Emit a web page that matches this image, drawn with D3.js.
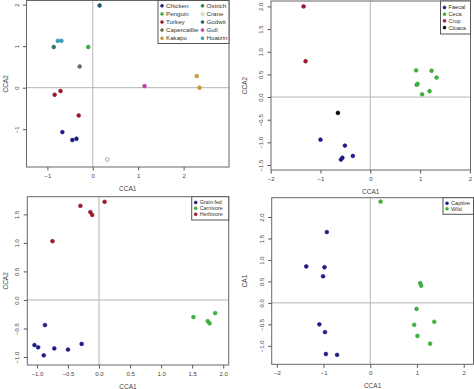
<!DOCTYPE html>
<html>
<head>
<meta charset="utf-8">
<script src="https://cdn.jsdelivr.net/npm/d3@7"></script>
<style>
  body { margin: 0; background: #fff; }
  svg { display: block; font-family: "Liberation Sans", Arial, sans-serif; }
</style>
</head>
<body>
<svg id="chart" width="474" height="389"></svg>
<script>
// Panel 1: host species (CCA1 / CCA2)
const speciesNames = ["Chicken", "Penguin", "Turkey", "Capercaillie", "Kakapo", "Ostrich", "Crane", "Godwit", "Gull", "Hoatzin"];
const speciesColors = ["#1c1c8a", "#3db53d", "#a3172b", "#6f6f55", "#c9a032", "#2f7d5c", "#ffffff", "#1f5d6d", "#c63cb6", "#3a9fb9"];
const speciesPoints = [
  [-0.67, -1.07, "Chicken"], [-0.45, -1.26, "Chicken"], [-0.36, -1.23, "Chicken"],
  [-0.10, 0.98, "Penguin"],
  [-0.71, -0.08, "Turkey"], [-0.84, -0.17, "Turkey"], [-0.31, -0.67, "Turkey"],
  [-0.29, 0.51, "Capercaillie"],
  [2.29, 0.28, "Kakapo"], [2.35, 0.0, "Kakapo"],
  [-0.86, 0.98, "Ostrich"],
  [0.32, -1.73, "Crane"],
  [0.15, 1.98, "Godwit"],
  [1.14, 0.04, "Gull"],
  [-0.77, 1.13, "Hoatzin"], [-0.69, 1.13, "Hoatzin"]
];

// Panel 2: gut section
const sectionNames = ["Faecal", "Ceca", "Crop", "Cloaca"];
const sectionColors = ["#1c1c8a", "#3db53d", "#a3172b", "#000000"];
const sectionPoints = [
  [-1.0, -0.94, "Faecal"], [-0.51, -1.07, "Faecal"], [-0.35, -1.30, "Faecal"], [-0.56, -1.34, "Faecal"], [-0.59, -1.38, "Faecal"],
  [0.92, 0.59, "Ceca"], [1.23, 0.58, "Ceca"], [1.33, 0.43, "Ceca"], [0.93, 0.27, "Ceca"], [0.95, 0.29, "Ceca"], [1.19, 0.13, "Ceca"], [1.04, 0.06, "Ceca"],
  [-1.34, 2.0, "Crop"], [-1.30, 0.79, "Crop"],
  [-0.65, -0.35, "Cloaca"]
];

// Panel 3: diet
const dietNames = ["Grain-fed", "Carnivore", "Herbivore"];
const dietColors = ["#1c1c8a", "#3db53d", "#a3172b"];
const dietPoints = [
  [-0.87, -0.44, "Grain-fed"], [-1.04, -0.79, "Grain-fed"], [-0.98, -0.83, "Grain-fed"], [-0.89, -0.97, "Grain-fed"],
  [-0.72, -0.85, "Grain-fed"], [-0.50, -0.87, "Grain-fed"], [-0.28, -0.77, "Grain-fed"],
  [1.52, -0.30, "Carnivore"], [1.75, -0.37, "Carnivore"], [1.78, -0.41, "Carnivore"], [1.87, -0.23, "Carnivore"],
  [-0.75, 1.03, "Herbivore"], [-0.30, 1.65, "Herbivore"], [-0.14, 1.54, "Herbivore"], [-0.11, 1.49, "Herbivore"], [0.09, 1.72, "Herbivore"]
];

// Panel 4: captivity
const statusNames = ["Captive", "Wild"];
const statusColors = ["#1c1c8a", "#3db53d"];
const statusPoints = [
  [-0.93, 1.65, "Captive"], [-1.37, 0.85, "Captive"], [-0.98, 0.83, "Captive"], [-1.01, 0.62, "Captive"],
  [-1.09, -0.50, "Captive"], [-0.97, -0.68, "Captive"], [-0.95, -1.19, "Captive"], [-0.71, -1.21, "Captive"],
  [0.22, 2.36, "Wild"], [1.07, 0.46, "Wild"], [1.09, 0.40, "Wild"], [0.99, -0.14, "Wild"],
  [0.94, -0.51, "Wild"], [1.37, -0.44, "Wild"], [1.01, -0.77, "Wild"], [1.28, -0.95, "Wild"]
];

const panels = [
  { points: speciesPoints, names: speciesNames, colors: speciesColors,
    box: [26.5, 0.5, 229, 167], xDomain: [-1.46, 3.0], yDomain: [-1.91, 2.10],
    xTicks: [-1, 0, 1, 2], yTicks: [-1, 0, 1, 2], fmt: d3.format("d"),
    xLabel: "CCA1", yLabel: "CCA2", yLabelX: 8,
    legend: { x: 158, y: 0.5, w: 71, h: 43, rowH: 8.1, cols: 2, colW: 40.5, font: 6.2 } },
  { points: sectionPoints, names: sectionNames, colors: sectionColors,
    box: [271, 1, 470.5, 170], xDomain: [-1.994, 2.012], yDomain: [-1.61, 2.12],
    xTicks: [-2, -1, 0, 1, 2], yTicks: [-1.5, -1, -0.5, 0, 0.5, 1, 1.5, 2], fmt: d3.format(".1f"), xFmt: d3.format("d"),
    xLabel: "CCA1", yLabel: "CCA2", yLabelX: 247,
    legend: { x: 440.5, y: 1, w: 30, h: 33, rowH: 6.7, cols: 1, colW: 30, font: 5.6 } },
  { points: dietPoints, names: dietNames, colors: dietColors,
    box: [27.3, 196.7, 228.7, 365], xDomain: [-1.155, 2.088], yDomain: [-1.14, 1.81],
    xTicks: [-1, -0.5, 0, 0.5, 1, 1.5, 2], yTicks: [-1, -0.5, 0, 0.5, 1, 1.5], fmt: d3.format(".1f"),
    xLabel: "CCA1", yLabel: "CCA2", yLabelX: 8,
    legend: { x: 191.7, y: 196.7, w: 37, h: 23.3, rowH: 5.9, cols: 1, colW: 37, font: 5.3 } },
  { points: statusPoints, names: statusNames, colors: statusColors,
    box: [271.7, 197.7, 473.5, 364.3], xDomain: [-2.11, 2.21], yDomain: [-1.43, 2.45],
    xTicks: [-2, -1, 0, 1, 2], yTicks: [-1, -0.5, 0, 0.5, 1, 1.5, 2], fmt: d3.format(".1f"), xFmt: d3.format("d"),
    xLabel: "CCA1", yLabel: "CA1", yLabelX: 247,
    legend: { x: 443, y: 197.7, w: 30.5, h: 16.6, rowH: 5.4, cols: 1, colW: 30.5, font: 5.6 } }
];

const svg = d3.select("#chart");

panels.forEach((p) => {
  const [x0, y0, x1, y1] = p.box;
  const x = d3.scaleLinear().domain(p.xDomain).range([x0, x1]);
  const y = d3.scaleLinear().domain(p.yDomain).range([y1, y0]);
  const color = d3.scaleOrdinal().domain(p.names).range(p.colors);
  const g = svg.append("g");

  // reference lines through the origin
  g.append("line")
    .attr("x1", x(0)).attr("x2", x(0)).attr("y1", y0).attr("y2", y1)
    .attr("stroke", "#b5b5b5").attr("stroke-width", 1);
  g.append("line")
    .attr("x1", x0).attr("x2", x1).attr("y1", y(0)).attr("y2", y(0))
    .attr("stroke", "#b5b5b5").attr("stroke-width", 1);

  // axes
  g.append("g")
    .attr("transform", `translate(0,${y1})`)
    .call(d3.axisBottom(x).tickValues(p.xTicks).tickSize(3.5).tickPadding(3).tickFormat(p.xFmt || p.fmt))
    .call(a => a.select(".domain").remove())
    .call(a => a.selectAll("line").attr("stroke", "#555"))
    .call(a => a.selectAll("text").attr("font-size", 6).attr("fill", "#444").attr("font-family", "Liberation Sans, Arial, sans-serif"));

  const yAxis = g.append("g")
    .attr("transform", `translate(${x0},0)`)
    .call(d3.axisLeft(y).tickValues(p.yTicks).tickSize(3.5).tickFormat(p.fmt))
    .call(a => a.select(".domain").remove())
    .call(a => a.selectAll("line").attr("stroke", "#555"));
  yAxis.selectAll("text")
    .attr("font-size", 6).attr("fill", "#444").attr("font-family", "Liberation Sans, Arial, sans-serif")
    .attr("x", null).attr("dy", null)
    .attr("text-anchor", "middle")
    .attr("transform", "translate(-8,0) rotate(-90)");

  // plot box
  g.append("rect")
    .attr("x", x0).attr("y", y0).attr("width", x1 - x0).attr("height", y1 - y0)
    .attr("fill", "none").attr("stroke", "#666").attr("stroke-width", 1);

  // axis titles
  g.append("text")
    .attr("x", (x0 + x1) / 2).attr("y", y1 + 24)
    .attr("text-anchor", "middle").attr("font-size", 6.5).attr("fill", "#444")
    .text(p.xLabel);
  g.append("text")
    .attr("transform", `translate(${p.yLabelX},${(y0 + y1) / 2}) rotate(-90)`)
    .attr("text-anchor", "middle").attr("font-size", 6.5).attr("fill", "#444")
    .text(p.yLabel);

  // points
  g.selectAll("circle.pt")
    .data(p.points)
    .join("circle")
    .attr("class", "pt")
    .attr("cx", d => x(d[0]))
    .attr("cy", d => y(d[1]))
    .attr("r", 1.9)
    .attr("fill", d => color(d[2]))
    .attr("stroke", d => d[2] === "Crane" ? "#777" : d3.color(color(d[2])).darker(0.4))
    .attr("stroke-width", 0.6);

  // legend
  const L = p.legend;
  const rows = Math.ceil(p.names.length / L.cols);
  const top = (L.h - rows * L.rowH) / 2;
  const lg = g.append("g").attr("transform", `translate(${L.x},${L.y})`);
  lg.append("rect")
    .attr("width", L.w).attr("height", L.h)
    .attr("fill", "#fff").attr("stroke", "#555").attr("stroke-width", 1);
  p.names.forEach((name, i) => {
    const col = Math.floor(i / rows), row = i % rows;
    const item = lg.append("g")
      .attr("transform", `translate(${col * L.colW + 4},${top + row * L.rowH + L.rowH / 2})`);
    item.append("circle")
      .attr("r", 1.5)
      .attr("fill", color(name))
      .attr("stroke", name === "Crane" ? "#777" : d3.color(color(name)).darker(0.4))
      .attr("stroke-width", 0.5);
    item.append("text")
      .attr("x", 4).attr("dy", "0.35em")
      .attr("font-size", L.font).attr("fill", "#333")
      .text(name);
  });
});
</script>
</body>
</html>
